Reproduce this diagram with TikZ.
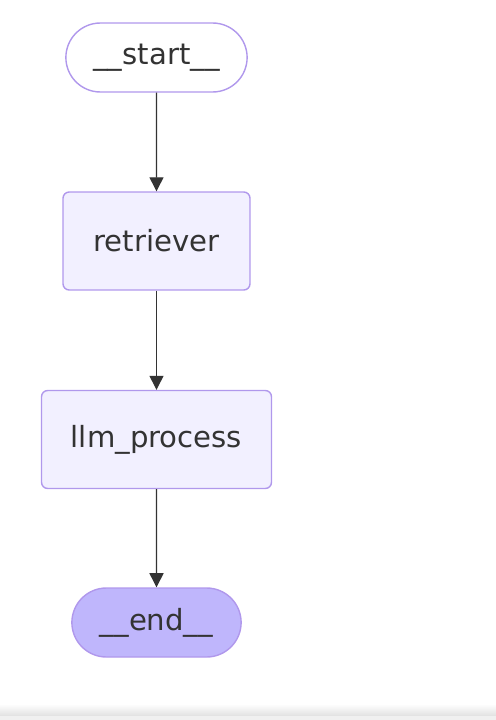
\documentclass[tikz,border=0pt]{standalone}
\usepackage{fontspec}
\usepackage{tikz}
\usetikzlibrary{arrows.meta, shapes.misc}
\newfontfamily\graphfont{DejaVu Sans}
\definecolor{nodefill}{RGB}{242, 240, 255}
\definecolor{nodeline}{RGB}{176, 152, 236}
\definecolor{endfill}{RGB}{191, 182, 252}
\definecolor{edgeline}{RGB}{51, 51, 51}
\definecolor{labeltext}{RGB}{51, 51, 51}

\begin{document}
\begin{tikzpicture}[x=0.02cm, y=-0.02cm,
  every node/.style={font=\graphfont\fontsize{16.6}{20}\selectfont, text=labeltext},
  stepnode/.style={draw=nodeline, fill=nodefill, line width=0.8pt,
                   rounded corners=3.5pt, minimum height=1.96cm},
  termnode/.style={draw=nodeline, line width=0.8pt, rounded rectangle,
                   minimum height=1.38cm},
  edge/.style={draw=edgeline, line width=0.7pt,
               -{Triangle[length=8pt, width=8pt]}}]

  % page and bottom bar
  \useasboundingbox (0, 0) rectangle (496, 720);
  \shade [top color=white, bottom color=black!12] (0, 704) rectangle (496, 716);
  \fill [color=black!6] (0, 716) rectangle (496, 720);

  % nodes
  \node [termnode, fill=white, minimum width=3.86cm] (start) at (156.5, 57.5) {\_\_start\_\_};
  \node [stepnode, minimum width=3.74cm] (retriever) at (156.5, 241) {retriever};
  \node [stepnode, minimum width=4.6cm] (llm) at (156.5, 439.5) {llm\_process};
  \node [termnode, fill=endfill, minimum width=3.62cm] (end) at (156.5, 622.5) {\_\_end\_\_};

  % edges
  \draw [edge] (start) -- (retriever);
  \draw [edge] (retriever) -- (llm);
  \draw [edge] (llm) -- (end);

\end{tikzpicture}
\end{document}
